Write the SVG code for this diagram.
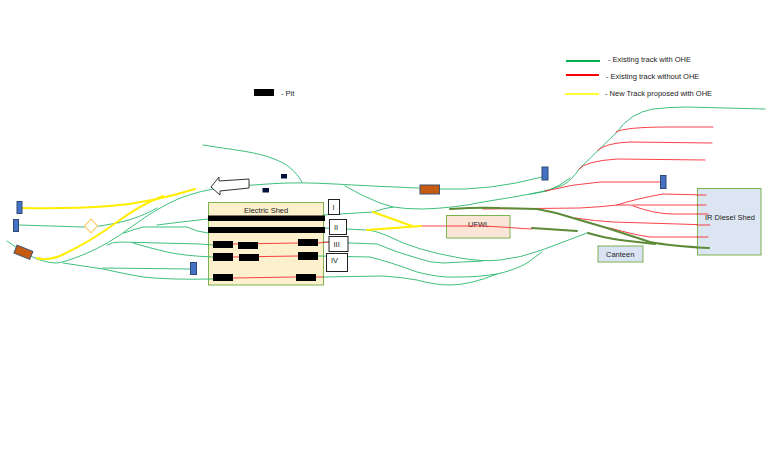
<svg xmlns="http://www.w3.org/2000/svg" width="768" height="466" viewBox="0 0 768 466">
<style>
text{font-family:"Liberation Sans",Arial,sans-serif;font-size:7.500px;fill:#222}
.g,.r,.y,.o{fill:none;stroke-linecap:round;stroke-linejoin:round}
.g{stroke:#1cb465;stroke-width:1;opacity:.85}
.r{stroke:#f8212a;stroke-width:1;opacity:.85}
.y{stroke:#ffee00;stroke-width:2}
.o{stroke:#5c8a36;stroke-width:2}
.p{fill:#000}
.b{fill:#4472c4;stroke:#2f4a73;stroke-width:1}
.br{fill:#c55a11;stroke:#3f5270;stroke-width:1}
.n{fill:#fff;stroke:#222;stroke-width:1}
</style>
<rect width="768" height="466" fill="#fff"/>
<g id="legend">
<path d="M566 61H600" stroke="#00b050" stroke-width="2"/>
<path d="M566 75H599" stroke="#ff0000" stroke-width="2"/>
<path d="M565 94H599" stroke="#ffff33" stroke-width="2"/>
<text x="608" y="62">-  Existing track with OHE</text>
<text x="606" y="79">- Existing track without OHE</text>
<text x="605" y="96">- New Track proposed with OHE</text>
<rect class="p" x="254" y="89" width="20" height="7"/>
<text x="281" y="96">- Pit</text>
</g>
<g id="shed-electric">
<rect x="208.500" y="202.500" width="115" height="82.500" fill="#fdf0cd" stroke="#7cb24f" stroke-width="1"/>
<text x="244" y="213">Electric Shed</text>
</g>
<g id="connectors">
<path class="g" d="M7 241L20 250Q33 258 41.500 260.500Q50 263 56 263Q63 263 85 254Q107 245 132 226.500Q157 208 178 199Q200 190 225 187.500Q250 185 275 183.500Q300 182 335 184Q370 186 395 187L440 189Q490 191 542 177"/>
<path class="g" d="M19 225L83 227Q100 227 117 223Q140 218 157 208"/>
<path class="g" d="M107 245Q112 242 120 242L200 244L213 245"/>
<path class="g" d="M133 243Q150 248 167 252Q185 256 213 257"/>
<path class="g" d="M124 233Q135 229 143 227L187 227Q197 232 208 233"/>
<path class="g" d="M157 225Q180 222 208 219"/>
<path class="g" d="M63 263L103 269Q125 274 143 277Q170 280 213 279"/>
<path class="g" d="M103 268L190 269"/>
<path class="g" d="M203 145C240 151 262 152 283 163C292 168 298 175 302 182"/>
<path class="g" d="M323 215L373 212Q385 208 393 207Q405 209 423 209Q455 208 483 202Q515 197 547 191Q560 186 570 178"/>
<path class="g" d="M345 186Q360 195 380 203L393 207"/>
<path class="g" d="M323 228L367 230Q377 231 390 237Q415 250 460 258Q483 262 500 260Q520 258 542 250L587 233"/>
<path class="g" d="M323 242L377 244Q395 252 417 258Q430 263 443 263L483 261"/>
<path class="g" d="M318 256L370 257Q390 262 417 272Q440 278 457 277Q480 277 497 274Q515 270 527 263L542 252"/>
<path class="g" d="M323 277L383 276Q400 277 417 280Q435 285 450 285Q470 285 497 274"/>
<path class="g" d="M530 194Q552 190 563 185Q572 180 580 168L617 132Q630 113 653 109Q670 107 687 107L765 109"/>
<path class="r" d="M545 191Q573 184 600 182L660 182"/>
<path class="r" d="M579 169Q586 161 617 159L705 160"/>
<path class="r" d="M598 150Q606 143 630 142L712 143"/>
<path class="r" d="M616 132Q624 127 670 127H713"/>
<path class="r" d="M483 209L580 208Q600 207 617 205Q635 199 663 194L706 195"/>
<path class="r" d="M617 205H706"/>
<path class="r" d="M633 206Q655 214 673 214H708"/>
<path class="r" d="M575 218Q595 221 613 222L710 225"/>
<path class="r" d="M610 228Q635 235 650 237H708"/>
<path class="r" d="M421 226L483 226L532 229"/>
<path class="r" d="M233 244L298 243M318 243L329 242"/>
<path class="r" d="M233 257L298 256"/>
<path class="r" d="M233 278L296 277M316 277L323 277"/>
<path class="y" d="M22 208Q70 209 110 206Q150 203 195 189"/>
<path class="y" d="M37 258Q45 261 60 256Q90 242 117 222Q140 205 163 196"/>
<path class="y" d="M373 212L412 226"/>
<path class="y" d="M367 230L421 226"/>
<path class="o" d="M450 209Q480 207 500 208L537 209Q555 212 573 218L607 228L650 242Q670 246 709 248"/>
<path class="o" d="M532 228L577 231"/>
<path class="o" d="M588 233Q605 238 620 240L655 244"/>
</g>
<g id="pits">
<rect class="p" x="208" y="215.500" width="117" height="5.500"/>
<rect class="p" x="208" y="227" width="117" height="6"/>
<rect class="p" x="213" y="241" width="20" height="7"/>
<rect class="p" x="238" y="242" width="20" height="7"/>
<rect class="p" x="298" y="239" width="20" height="7"/>
<rect class="p" x="213" y="253" width="20" height="8"/>
<rect class="p" x="239" y="254" width="20" height="7"/>
<rect class="p" x="298" y="252" width="20" height="8"/>
<rect class="p" x="213" y="274" width="20" height="7"/>
<rect class="p" x="296" y="274" width="20" height="7"/>
<rect x="281" y="174" width="6" height="4.500" fill="#04123a"/>
<rect x="262.500" y="188" width="6.500" height="4.500" fill="#04123a"/>
</g>
<g id="arrow"><path d="M211 187L219 177V181L249 179V188L220 191V195Z" fill="#fff" stroke="#333" stroke-width="1"/></g>
<g id="line-I"><rect class="n" x="328.500" y="199.500" width="11" height="15"/><text x="332.500" y="209.500">I</text></g>
<g id="line-II"><rect class="n" x="329.500" y="219.500" width="17" height="15"/><text x="334" y="230">II</text></g>
<g id="line-III"><rect class="n" x="329" y="236.500" width="19" height="15"/><text x="333.500" y="246.500">III</text></g>
<g id="line-IV"><rect class="n" x="326.500" y="253.500" width="21" height="18"/><text x="331" y="263">IV</text></g>
<g id="signal-1"><rect class="b" x="17" y="201.500" width="5" height="12"/></g>
<g id="signal-2"><rect class="b" x="13.500" y="219.500" width="5" height="12"/></g>
<g id="signal-3"><rect class="b" x="190.500" y="262.500" width="6" height="12"/></g>
<g id="signal-4"><rect class="b" x="542" y="167" width="6" height="13"/></g>
<g id="signal-5"><rect class="b" x="660.500" y="175.500" width="5.500" height="13"/></g>
<g id="loco-1"><rect class="br" x="420" y="185" width="19.500" height="9"/></g>
<g id="loco-2"><rect class="br" x="15" y="248" width="17" height="8.500" transform="rotate(22 23.500 252)"/></g>
<g id="crossing"><path d="M91 219L97.500 226L91 233L84.500 226Z" fill="#fff" stroke="#ffd27f" stroke-width="1.300"/></g>
<g id="ufwl"><rect x="446.500" y="215.500" width="63.500" height="22.500" fill="#fbe5d6" stroke="#7cb24f" stroke-width="1"/><text x="468" y="227">UFWL</text><path class="r" d="M447 226L483 226L510 227.500"/></g>
<g id="canteen"><rect x="598" y="246" width="45" height="16" fill="#dae3f3" stroke="#7cb24f" stroke-width="1"/><text x="606" y="257">Canteen</text></g>
<g id="diesel-shed"><rect x="697.500" y="188.500" width="63.500" height="66.500" fill="#dce6f2" stroke="#7cb24f" stroke-width="1"/><text x="705" y="220">IR Diesel Shed</text>
<path class="r" d="M697 195H706M697 205H706M697 214H708M697 225H710M697 237H708"/><path class="o" d="M697 247.500L709 248"/></g>
</svg>
